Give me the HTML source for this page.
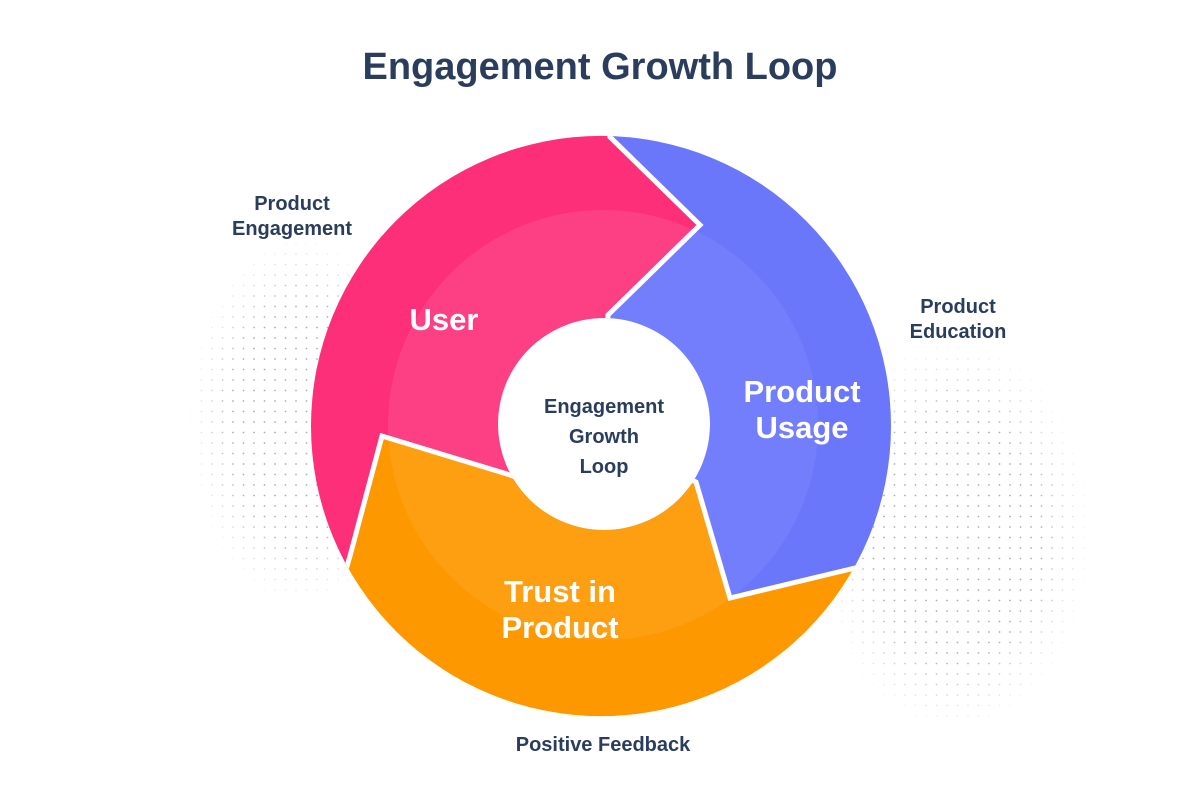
<!DOCTYPE html>
<html><head><meta charset="utf-8"><style>
html,body{margin:0;padding:0;background:#fff;}
body{width:1200px;height:805px;overflow:hidden;}
svg text{font-family:"Liberation Sans",sans-serif;font-weight:bold;}
</style></head><body>
<svg width="1200" height="805" viewBox="0 0 1200 805" xmlns="http://www.w3.org/2000/svg">
<defs>
<pattern id="dots" width="10.5" height="10.5" patternUnits="userSpaceOnUse">
<circle cx="2" cy="2" r="0.9" fill="#a8adb6"/>
</pattern>
<radialGradient id="fadeL" cx="0.5" cy="0.5" r="0.5">
<stop offset="0.6" stop-color="#fff" stop-opacity="0"/><stop offset="1" stop-color="#fff" stop-opacity="1"/>
</radialGradient>
<clipPath id="ring"><path fill-rule="evenodd" clip-rule="evenodd" d="M311,426a290,290 0 1,0 580,0a290,290 0 1,0 -580,0Z M498,424a106,106 0 1,0 212,0a106,106 0 1,0 -212,0Z"/></clipPath>
<clipPath id="innerring"><circle cx="603" cy="425" r="215"/></clipPath>
</defs>
<ellipse cx="300" cy="420" rx="110" ry="185" fill="url(#dots)"/>
<ellipse cx="300" cy="420" rx="112" ry="187" fill="url(#fadeL)"/>
<ellipse cx="955" cy="535" rx="135" ry="195" fill="url(#dots)"/>
<ellipse cx="955" cy="535" rx="137" ry="197" fill="url(#fadeL)"/>
<g clip-path="url(#ring)">
<polygon fill="#fc2f78" points="604,424 608,315 700,225 610,137 612,60 180,60 180,640 338,600 350,556 382,436 507,474"/>
<polygon fill="#6b77fb" points="604,424 608,315 700,225 610,137 612,60 1020,60 1020,530 855,568 730,598 696,482"/>
<polygon fill="#fd9800" points="604,424 696,482 730,598 855,568 1020,530 1020,800 180,800 180,640 338,600 350,556 382,436 507,474"/>
<g clip-path="url(#innerring)">
<polygon fill="#ff5a93" opacity="0.4" points="604,424 608,315 700,225 610,137 612,60 180,60 180,640 338,600 350,556 382,436 507,474"/>
<polygon fill="#8089ff" opacity="0.4" points="604,424 608,315 700,225 610,137 612,60 1020,60 1020,530 855,568 730,598 696,482"/>
<polygon fill="#ffa82a" opacity="0.4" points="604,424 696,482 730,598 855,568 1020,530 1020,800 180,800 180,640 338,600 350,556 382,436 507,474"/>
</g>
<g fill="none" stroke="#fff" stroke-width="5" stroke-linejoin="miter">
<polyline points="606,360 608,315 700,225 610,137 611,100"/>
<polyline points="650,460 696,482 730,598 855,568 900,557"/>
<polyline points="540,485 507,474 382,436 350,556 340,590"/>
</g>
</g>
<text x="600" y="79" text-anchor="middle" font-size="38" fill="#2a3d5c">Engagement Growth Loop</text>
<g font-size="20" fill="#2a3d5c" text-anchor="middle">
<text x="292" y="210">Product</text><text x="292" y="235">Engagement</text>
<text x="958" y="313">Product</text><text x="958" y="338">Education</text>
<text x="603" y="751">Positive Feedback</text>
<text x="604" y="413">Engagement</text><text x="604" y="443">Growth</text><text x="604" y="473">Loop</text>
</g>
<g font-size="31" fill="#fff" text-anchor="middle">
<text x="444" y="330">User</text>
<text x="802" y="402">Product</text><text x="802" y="438">Usage</text>
<text x="560" y="602">Trust in</text><text x="560" y="638">Product</text>
</g>
</svg>
</body></html>
